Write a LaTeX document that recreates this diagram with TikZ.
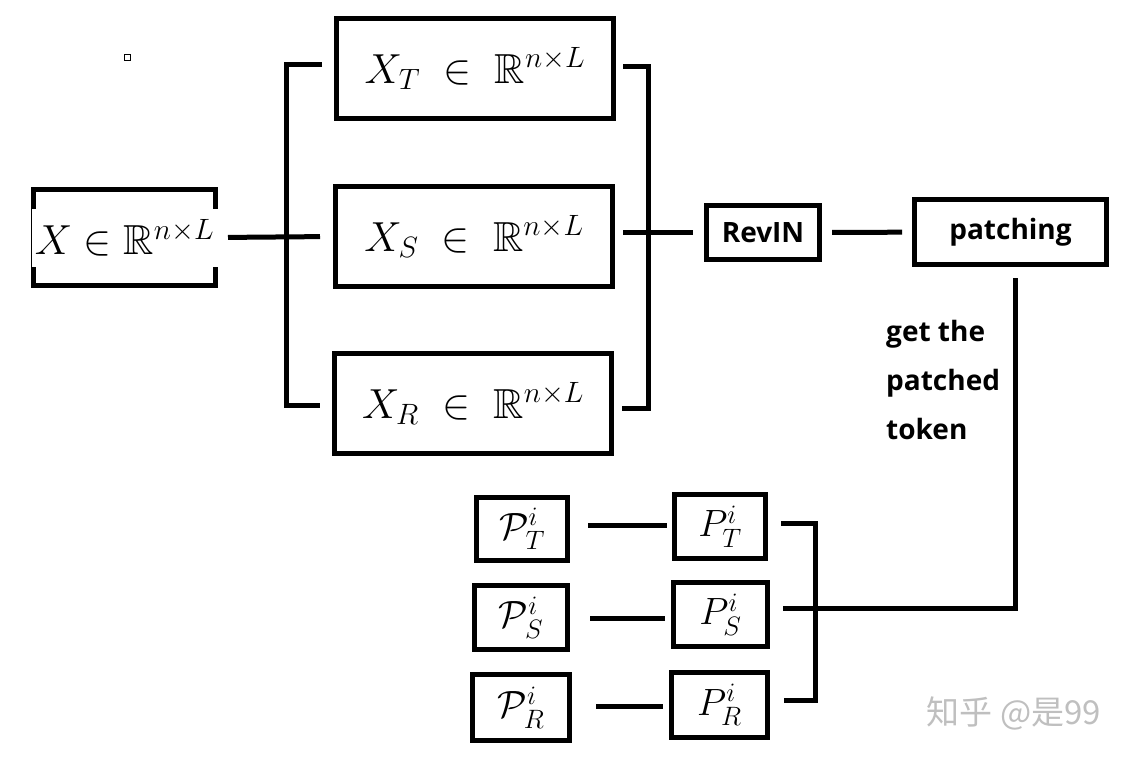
\RequirePackage{fix-cm}
\documentclass[tikz,border=0pt]{standalone}
\usepackage{amsmath,amssymb}
\usepackage{fontspec}
\setsansfont{Open Sans}
\newfontfamily\cjkfont{Noto Sans CJK SC}
\usetikzlibrary{calc}

\tikzset{
	blk/.style = {draw, line width=5pt, inner sep=0pt, font=\fontsize{42}{50}\selectfont},
	pblk/.style = {blk, font=\fontsize{38}{46}\selectfont},
	wire/.style = {line width=5pt},
	lbl/.style = {font=\fontsize{28}{49}\selectfont\sffamily\bfseries}
}

\begin{document}
\begin{tikzpicture}[x=1pt, y=-1pt]
	\useasboundingbox (0,0) rectangle (1133,760);
	
	% input and the three parts
	\node[blk, minimum width=182, minimum height=96] (X) at (124.5,237.5) {};
	\node[fill=white, inner sep=0pt, minimum width=186, minimum height=58, font=\fontsize{42}{50}\selectfont] (Xtxt) at (X) {$X \in \mathbb{R}^{n\times L}$};
	\node[blk, minimum width=277, minimum height=100] (XT) at (475,68.5) {$X_T \;\in\; \mathbb{R}^{n\times L}$};
	\node[blk, minimum width=277, minimum height=100] (XS) at (474,236.5) {$X_S \;\in\; \mathbb{R}^{n\times L}$};
	\node[blk, minimum width=277, minimum height=100] (XR) at (473,403.5) {$X_R \;\in\; \mathbb{R}^{n\times L}$};
	
	\node[blk, lbl, minimum width=113, minimum height=54] (RevIN) at (763,232.5) {RevIN};
	\node[blk, lbl, minimum width=192, minimum height=65] (patching) at (1010.5,232) {patching};
	\node[lbl, align=left, anchor=north west, inner sep=0pt] (note) at (886,320) {get the\\patched\\token};
	
	% tokens
	\node[pblk, minimum width=91, minimum height=63] (cPT) at (522,529) {$\mathcal{P}_T^i$};
	\node[pblk, minimum width=93, minimum height=64] (cPS) at (521,617.5) {$\mathcal{P}_S^i$};
	\node[pblk, minimum width=97, minimum height=66] (cPR) at (521,707.5) {$\mathcal{P}_R^i$};
	\node[pblk, minimum width=91, minimum height=64] (PT) at (720,526.5) {$P_T^i$};
	\node[pblk, minimum width=94, minimum height=64] (PS) at (720.5,614.5) {$P_S^i$};
	\node[pblk, minimum width=96, minimum height=65] (PR) at (719.5,705) {$P_R^i$};
	
	\node[draw, line width=0.8pt, minimum size=6pt, inner sep=0pt] (dot) at (127,57) {};
	\node[text=black!25, font=\cjkfont\fontsize{33}{38}\selectfont, inner sep=0pt] (mark) at (1014,713) {知乎 @是99};
	
	% connectors
	\draw[wire, shorten <=10pt, shorten >=13pt] (X.east) -- (XS.west);
	\draw[wire] ($(XT.west)+(-12,-3.5)$) -- ++(-36,0) |- ($(XR.west)+(-12,1.5)$);
	\draw[wire] ($(XT.east)+(7,-1.5)$) -- ++(25,0) |- ($(XR.east)+(8,4.5)$);
	\draw[wire] ($(XS.east)+(8,-4.5)$) -- ($(RevIN.west)+(-11,-0.5)$);
	\draw[wire, shorten <=10pt, shorten >=10pt] (RevIN) -- (patching);
	\draw[wire] ($(patching.south)+(4.5,11)$) |- ($(PS.east)+(13,-6.5)$);
	\draw[wire] ($(PT.east)+(13,-3.5)$) -- ++(34,0) |- ($(PR.east)+(14,-5)$);
	\draw[wire] ($(cPT.east)+(18,-4)$) -- ($(PT.west)+(-5,-1.5)$);
	\draw[wire] ($(cPS.east)+(20,0.5)$) -- ($(PS.west)+(-6,3.5)$);
	\draw[wire] ($(cPR.east)+(24,-1.5)$) -- ($(PR.west)+(-6,1)$);
\end{tikzpicture}
\end{document}
